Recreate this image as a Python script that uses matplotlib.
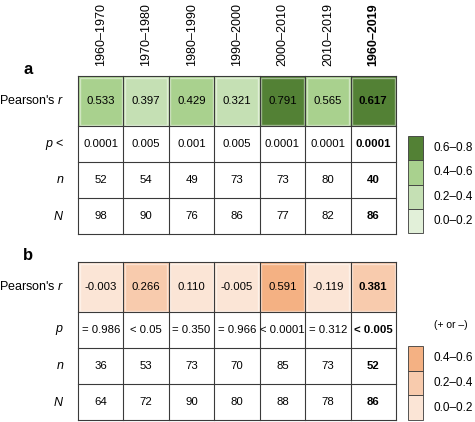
import matplotlib
matplotlib.use("Agg")
import matplotlib.pyplot as plt
from matplotlib.patches import Rectangle
from matplotlib.colors import to_rgb

plt.rcParams["font.family"] = ["Liberation Sans", "DejaVu Sans"]
plt.rcParams["mathtext.fontset"] = "custom"
plt.rcParams["mathtext.it"] = "Liberation Sans:italic"
plt.rcParams["mathtext.rm"] = "Liberation Sans"

periods = ["1960–1970", "1970–1980", "1980–1990", "1990–2000",
           "2000–2010", "2010–2019", "1960–2019"]

a_r = [0.533, 0.397, 0.429, 0.321, 0.791, 0.565, 0.617]
a_p = ["0.0001", "0.005", "0.001", "0.005", "0.0001", "0.0001", "0.0001"]
a_n = [52, 54, 49, 73, 73, 80, 40]
a_N = [98, 90, 76, 86, 77, 82, 86]

b_r = [-0.003, 0.266, 0.110, -0.005, 0.591, -0.119, 0.381]
b_p = ["= 0.986", "< 0.05", "= 0.350", "= 0.966", "< 0.0001", "= 0.312", "< 0.005"]
b_n = [36, 53, 73, 70, 85, 73, 52]
b_N = [64, 72, 90, 80, 88, 78, 86]

bins = [0.0, 0.2, 0.4, 0.6, 0.8]
bin_labels = ["0.0–0.2", "0.2–0.4", "0.4–0.6", "0.6–0.8"]
greens = ["#e2f0d9", "#c5e0b4", "#a9d18e", "#538135"]
oranges = ["#fbe5d6", "#f8cbad", "#f4b183", "#c55a11"]

W, H = 475, 422
fig = plt.figure(figsize=(W / 100, H / 100), dpi=100)
ax = fig.add_axes([0, 0, 1, 1])
ax.set_xlim(0, W)
ax.set_ylim(H, 0)
ax.axis("off")

x0, x1 = 78, 396
cw = (x1 - x0) / len(periods)
grid_col = "#3a3a3a"
fs = 8.2


def bin_index(v):
    v = abs(v)
    for i in range(len(bins) - 1):
        if v < bins[i + 1]:
            return i
    return len(bins) - 2


def lighter(c, f=0.45):
    r, g, b = to_rgb(c)
    return (r + (1 - r) * f, g + (1 - g) * f, b + (1 - b) * f)


def draw_table(top, r_vals, p_vals, n_vals, N_vals, palette, p_label):
    heights = [50, 36, 36, 36]
    ys = [top]
    for h in heights:
        ys.append(ys[-1] + h)
    rows = [[f"{v:.3f}" for v in r_vals], p_vals,
            [str(v) for v in n_vals], [str(v) for v in N_vals]]
    labels = ["Pearson's $r$", p_label, "$n$", "$N$"]
    for j, v in enumerate(r_vals):
        c = palette[bin_index(v)]
        ax.add_patch(Rectangle((x0 + j * cw, ys[0]), cw, heights[0],
                               facecolor=c, edgecolor="none"))
        ax.add_patch(Rectangle((x0 + j * cw + 1.5, ys[0] + 1.5), cw - 3,
                               heights[0] - 3, facecolor="none",
                               edgecolor=lighter(c), lw=1.0))
    for i, row in enumerate(rows):
        yc = (ys[i] + ys[i + 1]) / 2
        for j, t in enumerate(row):
            bold = j == len(row) - 1
            ax.text(x0 + (j + 0.5) * cw, yc, t, ha="center", va="center",
                    fontsize=fs, fontweight="bold" if bold else "normal")
        ax.text(64, yc, labels[i], ha="right", va="center", fontsize=9)
    for y in ys:
        ax.plot([x0, x1], [y, y], color=grid_col, lw=0.8)
    for j in range(len(periods) + 1):
        ax.plot([x0 + j * cw] * 2, [ys[0], ys[-1]], color=grid_col, lw=0.8)


def draw_legend(top, bottom, palette, n_bins):
    bh = (bottom - top) / n_bins
    for k in range(n_bins):
        idx = n_bins - 1 - k
        y = top + k * bh
        ax.add_patch(Rectangle((408, y), 15, bh, facecolor=palette[idx],
                               edgecolor=grid_col, lw=0.6))
        ax.text(434, y + bh / 2, bin_labels[idx], ha="left", va="center",
                fontsize=8.5)


for j, p in enumerate(periods):
    bold = j == len(periods) - 1
    ax.text(x0 + (j + 0.5) * cw, 3, p, rotation=90, ha="center", va="top",
            fontsize=9, fontweight="bold" if bold else "normal")

ax.text(28, 70, "a", fontsize=12, fontweight="bold", ha="center", va="center")
ax.text(28, 255, "b", fontsize=12, fontweight="bold", ha="center", va="center")

draw_table(76, a_r, a_p, a_n, a_N, greens, "$p$ <")
draw_table(262, b_r, b_p, b_n, b_N, oranges, "$p$")

draw_legend(136, 233, greens, 4)
draw_legend(346, 420, oranges, 3)
ax.text(434, 325, "(+ or –)", ha="left", va="center", fontsize=7.5)

fig.savefig("out.png", dpi=100)
